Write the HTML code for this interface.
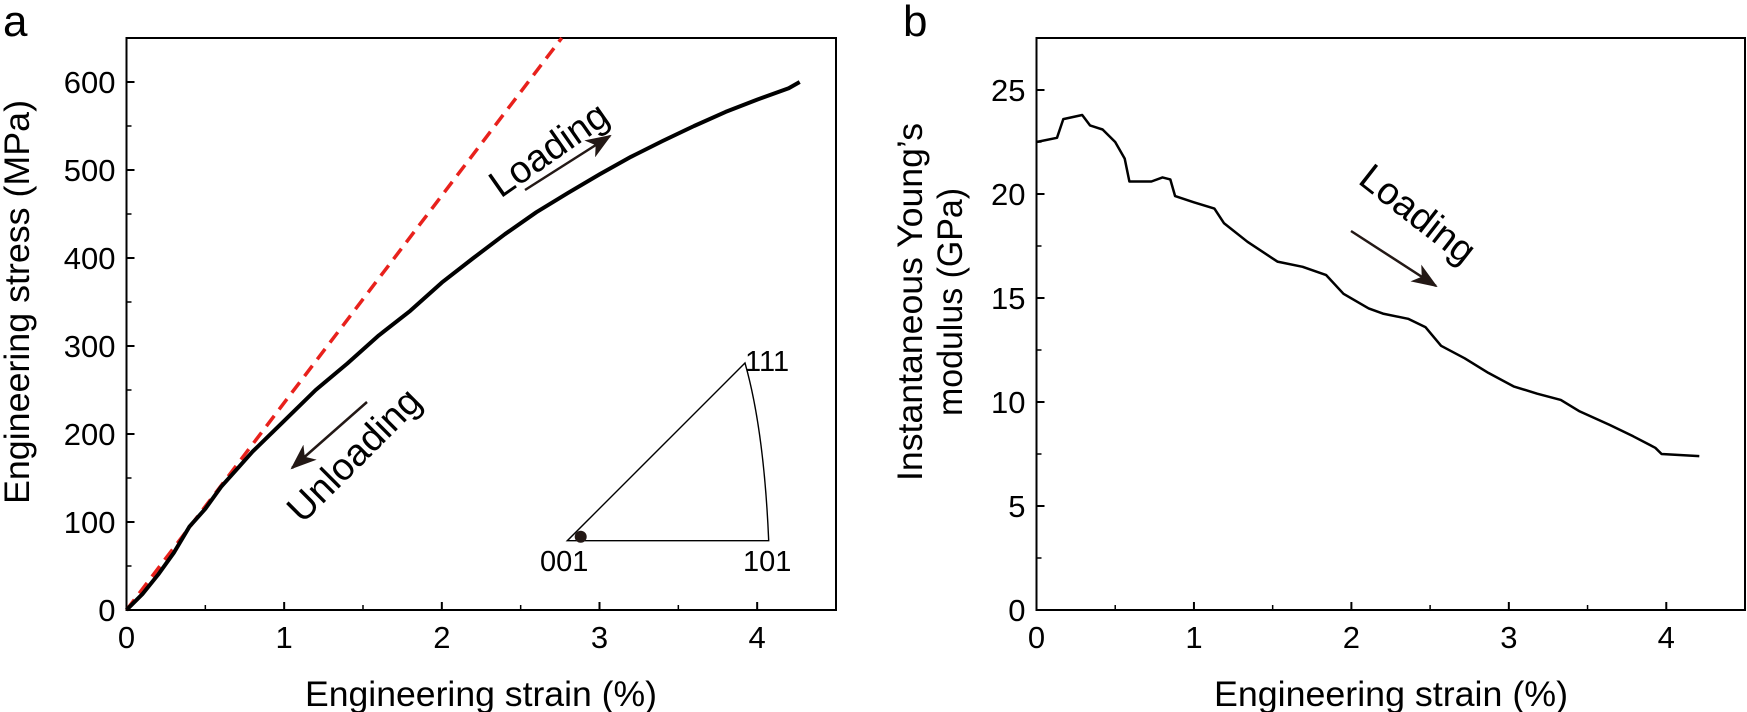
<!DOCTYPE html>
<html><head><meta charset="utf-8"><style>
html,body{margin:0;padding:0;background:#fff}
svg{display:block;font-family:"Liberation Sans",Arial,sans-serif}
</style></head><body>
<svg id="fig" width="1747" height="712" viewBox="0 0 1747 712">
<defs>
<marker id="ah" markerWidth="26" markerHeight="20" refX="24" refY="10" orient="auto" markerUnits="userSpaceOnUse" viewBox="0 0 26 20">
<path d="M0,0 L26,10 L0,20 L7,10 Z" fill="#231815"/></marker>
</defs>
<g id="pa"></g>
<g id="pb"></g>
</svg>
<script>
// Panel a data
const strainA = [0,0.1,0.2,0.3,0.4,0.5,0.6,0.7,0.8,1.0,1.2,1.4,1.6,1.8,2.0,2.2,2.4,2.6,2.8,3.0,3.2,3.4,3.6,3.8,4.0,4.2,4.27];
const stressA = [0,18,40,65,95,115,140,160,180,215,250,280,312,340,372,400,427,452,474,495,515,533,550,566,580,593,600];
const elasticStrain = [0,2.76];
const elasticStress = [0,650];
const xTicksA = ["0","1","2","3","4"];
const yTicksA = ["0","100","200","300","400","500","600"];
// Panel b data
const strainB = [0,0.13,0.17,0.29,0.34,0.42,0.5,0.56,0.59,0.65,0.73,0.8,0.85,0.88,1.0,1.13,1.19,1.34,1.53,1.69,1.84,1.95,2.11,2.2,2.36,2.47,2.57,2.72,2.87,3.03,3.18,3.33,3.45,3.64,3.79,3.93,3.97,4.21];
const modulusB = [22.5,22.7,23.6,23.8,23.3,23.1,22.5,21.7,20.6,20.6,20.6,20.8,20.7,19.9,19.6,19.3,18.6,17.7,16.75,16.5,16.1,15.2,14.5,14.25,14.0,13.6,12.7,12.1,11.4,10.75,10.4,10.1,9.55,8.9,8.35,7.8,7.5,7.4];
const xTicksB = ["0","1","2","3","4"];
const yTicksB = ["0","5","10","15","20","25"];

const NS="http://www.w3.org/2000/svg";
function mk(p,tag,at,txt){const e=document.createElementNS(NS,tag);for(const k in at)e.setAttribute(k,at[k]);if(txt!==undefined)e.textContent=txt;p.appendChild(e);return e;}

const A={x0:126.5,x1:836,y0:610,y1:38,xmin:0,xmax:4.5,ymin:0,ymax:650};
const ax=v=>A.x0+(v-A.xmin)/(A.xmax-A.xmin)*(A.x1-A.x0);
const ay=v=>A.y0-(v-A.ymin)/(A.ymax-A.ymin)*(A.y0-A.y1);
const B={x0:1036.5,x1:1745,y0:610,y1:38,xmin:0,xmax:4.5,ymin:0,ymax:27.5};
const bx=v=>B.x0+(v-B.xmin)/(B.xmax-B.xmin)*(B.x1-B.x0);
const by=v=>B.y0-(v-B.ymin)/(B.ymax-B.ymin)*(B.y0-B.y1);

const pa=document.getElementById('pa'), pb=document.getElementById('pb');

function frame(g,P,fx,fy,xt,yt,xminor,yminor){
  let r=mk(g,'rect',{x:P.x0,y:P.y1,width:P.x1-P.x0,height:P.y0-P.y1,fill:'none',stroke:'#000','stroke-width':2});
  
  
  xt.forEach(t=>{const v=parseFloat(t),x=fx(v);
    let l=mk(g,'line',{x1:x,x2:x,y1:P.y0,y2:P.y0-8,stroke:'#000','stroke-width':2});
    
    
    let tx=mk(g,'text',{x:x,y:648,'font-size':31,'text-anchor':'middle'},t);
    
    
    const m=v+xminor; if(fx(m)<P.x1-2){let l2=mk(g,'line',{x1:fx(m),x2:fx(m),y1:P.y0,y2:P.y0-5,stroke:'#000','stroke-width':1.5});
      
      }
  });
  yt.forEach(t=>{const v=parseFloat(t),y=fy(v);
    let l=mk(g,'line',{x1:P.x0,x2:P.x0+8,y1:y,y2:y,stroke:'#000','stroke-width':2});
    
    
    let tx=mk(g,'text',{x:P.x0-11,y:y+11,'font-size':31,'text-anchor':'end'},t);
    
    
    const m=v+yminor; if(fy(m)>P.y1+2){let l2=mk(g,'line',{x1:P.x0,x2:P.x0+5,y1:fy(m),y2:fy(m),stroke:'#000','stroke-width':1.5});
      
      }
  });
}
frame(pa,A,ax,ay,xTicksA,yTicksA,0.5,50);
frame(pb,B,bx,by,xTicksB,yTicksB,0.5,2.5);

function path(xs,ys,fx,fy){return xs.map((v,i)=>(i?'L':'M')+fx(v).toFixed(1)+','+fy(ys[i]).toFixed(1)).join(' ');}

let e=mk(pa,'path',{d:path(elasticStrain,elasticStress,ax,ay),fill:'none',stroke:'#e8211c','stroke-width':3.5,'stroke-dasharray':'13,8'});


e=mk(pa,'path',{d:path(strainA,stressA,ax,ay),fill:'none',stroke:'#000','stroke-width':4,'stroke-linejoin':'round'});


e=mk(pb,'path',{d:path(strainB,modulusB,bx,by),fill:'none',stroke:'#000','stroke-width':2.5,'stroke-linejoin':'round'});


</script>
<script>
const svg=document.getElementById('fig');
svg.insertAdjacentHTML('beforeend',`
<text x="3" y="36" font-size="44">a</text>
<text x="903" y="36" font-size="44">b</text>
<text x="481" y="706" font-size="35" text-anchor="middle" textLength="352" lengthAdjust="spacingAndGlyphs">Engineering strain (%)</text>
<text x="1391" y="706" font-size="35" text-anchor="middle" textLength="354" lengthAdjust="spacingAndGlyphs">Engineering strain (%)</text>
<text transform="translate(29,302) rotate(-90)" font-size="35" text-anchor="middle" textLength="404" lengthAdjust="spacingAndGlyphs">Engineering stress (MPa)</text>
<text transform="translate(922,302) rotate(-90)" font-size="35" text-anchor="middle" textLength="358" lengthAdjust="spacingAndGlyphs">Instantaneous Young’s</text>
<text transform="translate(962,302) rotate(-90)" font-size="35" text-anchor="middle" textLength="228" lengthAdjust="spacingAndGlyphs">modulus (GPa)</text>
<text transform="translate(556,160) rotate(-35)" font-size="38" text-anchor="middle">Loading</text>
<line x1="525" y1="190" x2="610" y2="136" stroke="#231815" stroke-width="2.5" marker-end="url(#ah)"/>
<text transform="translate(363,464) rotate(-45)" font-size="38" text-anchor="middle">Unloading</text>
<line x1="367" y1="402" x2="292" y2="468" stroke="#231815" stroke-width="2.5" marker-end="url(#ah)"/>
<text transform="translate(1410,224) rotate(38)" font-size="38" text-anchor="middle">Loading</text>
<line x1="1351" y1="231" x2="1436" y2="286" stroke="#231815" stroke-width="2.5" marker-end="url(#ah)"/>
<g>
<path d="M567.3,540.7 L768.7,540.7 Q764,430 745,363 Z" fill="none" stroke="#000" stroke-width="1.4"/>
<circle cx="580.7" cy="536.7" r="6" fill="#231815"/>
<text x="745" y="371" font-size="29">111</text>
<text x="540" y="571" font-size="29">001</text>
<text x="743" y="571" font-size="29">101</text>
</g>`);
</script>
</body></html>
